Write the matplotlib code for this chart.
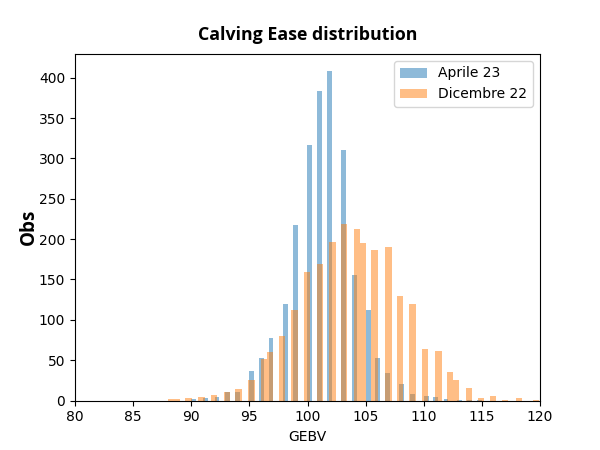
import matplotlib
matplotlib.use("Agg")
import matplotlib.pyplot as plt

# Aprile 23: bin left edges, counts (bin width ~0.42)
apr_left = [90.0, 91.0, 92.0, 92.9, 93.75, 94.94, 95.8, 96.65, 97.9, 98.76,
            99.97, 100.8, 101.7, 102.9, 103.8, 105.0, 105.8, 106.7, 107.9,
            108.8, 110.0, 110.8, 111.7, 112.9, 113.7, 114.6]
apr_obs = [2, 3, 4, 10, 11, 36, 53, 77, 120, 218,
           317, 383, 409, 310, 155, 112, 53, 34, 20,
           8, 5, 4, 2, 1, 1, 1]

# Dicembre 22: bin left edges, counts (bin width ~0.55)
dic_left = [88.0, 88.5, 89.5, 90.6, 91.7, 92.8, 93.8, 94.9, 96.0, 96.5,
            97.55, 98.6, 99.7, 100.8, 101.86, 102.87, 104.0, 104.5, 105.5,
            106.7, 107.7, 108.76, 109.85, 111.0, 112.0, 112.5, 113.6, 114.65,
            115.7, 116.7, 117.9, 119.4]
dic_obs = [2, 2, 3, 4, 7, 10, 14, 26, 51, 60,
           80, 112, 159, 169, 196, 219, 212, 195, 186,
           190, 130, 120, 64, 61, 35, 25, 16, 3,
           6, 1, 3, 1]

plt.rcParams['font.family'] = ['DejaVu Sans']
fig, ax = plt.subplots(figsize=(6, 4.5), dpi=100)

ax.bar(apr_left, apr_obs, width=0.42, align='edge', color='tab:blue',
       alpha=0.5, label='Aprile 23')
ax.bar(dic_left, dic_obs, width=0.55, align='edge', color='tab:orange',
       alpha=0.5, label='Dicembre 22')

ax.set_xlim(80, 120)
ax.set_xlabel('GEBV')
ax.set_ylabel('Obs', fontsize=13.5, fontweight='bold', family=['Open Sans'],
              labelpad=0)
ax.set_title('Calving Ease distribution', fontsize=12.8, fontweight='bold',
             family=['Open Sans'], pad=10)
ax.legend(loc='upper right')

fig.savefig('out.png', dpi=100)
